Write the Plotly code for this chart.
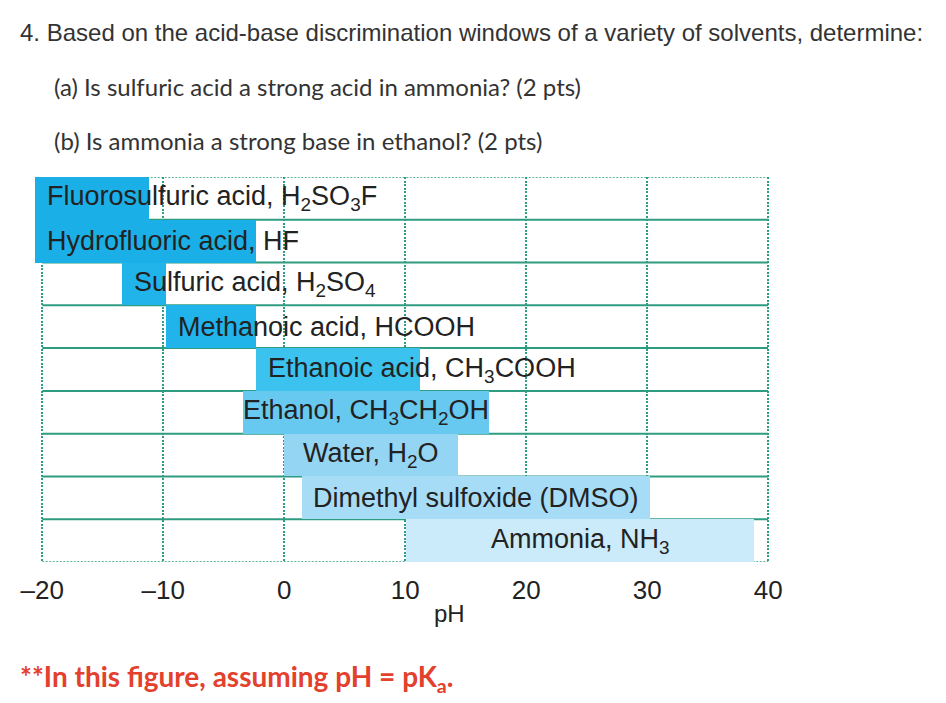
import plotly.graph_objects as go

# ---- data ----
solvents = [
    "Fluorosulfuric acid, H<sub>2</sub>SO<sub>3</sub>F",
    "Hydrofluoric acid, HF",
    "Sulfuric acid, H<sub>2</sub>SO<sub>4</sub>",
    "Methanoic acid, HCOOH",
    "Ethanoic acid, CH<sub>3</sub>COOH",
    "Ethanol, CH<sub>3</sub>CH<sub>2</sub>OH",
    "Water, H<sub>2</sub>O",
    "Dimethyl sulfoxide (DMSO)",
    "Ammonia, NH<sub>3</sub>",
]
window_low = [-20.6, -20.6, -13.4, -9.8, -2.3, -3.4, 0.0, 1.5, 10.1]
window_high = [-11.2, -2.3, -9.8, -2.3, 11.2, 16.9, 14.4, 30.2, 38.8]
tick_values = [-20, -10, 0, 10, 20, 30, 40]
tick_labels = ["\u201320", "\u201310", "0", "10", "20", "30", "40"]

# ---- style ----
bar_colors = ["#1BAFE7", "#1BAFE7", "#20B4EA", "#20B4EA", "#3CC2EF",
              "#68C9F0", "#95D5F4", "#A7DCF6", "#CBEAFA"]
label_align = ["left", "left", "left", "left", "left",
               "center", "center", "center", "center"]
grid_color = "#2E9C80"
text_color = "#222222"

W, H = 946, 703
L, R, T, B = 35, 173, 177, 141
PW, PH = W - L - R, H - T - B


def px(x):
    return (x - L) / PW


def py(y):
    return 1 - (y - T) / PH


rows = list(range(len(solvents)))
fig = go.Figure()
fig.add_trace(go.Bar(
    y=rows,
    x=[h - l for l, h in zip(window_low, window_high)],
    base=window_low,
    orientation="h",
    width=1.0,
    marker=dict(color=bar_colors, line=dict(width=0)),
    hoverinfo="skip",
    showlegend=False,
))

shapes = []
n = len(solvents)
for i in range(n + 1):
    edge = i - 0.5
    dotted = i in (0, n)
    shapes.append(dict(
        type="line", xref="x", yref="y",
        x0=tick_values[0], x1=tick_values[-1], y0=edge, y1=edge,
        line=dict(color=grid_color, width=2 if not dotted else 1.5,
                  dash="2px,1.5px" if dotted else "solid"),
        layer="below",
    ))

label_font = dict(family="Liberation Sans, Arial", size=27, color=text_color)
annotations = []
for i, (name, lo, hi, al) in enumerate(zip(solvents, window_low, window_high, label_align)):
    if al == "left":
        annotations.append(dict(x=lo, y=i, xref="x", yref="y", text=name,
                                xanchor="left", xshift=10, yanchor="middle",
                                showarrow=False, font=label_font))
    else:
        annotations.append(dict(x=(lo + hi) / 2, y=i, xref="x", yref="y", text=name,
                                xanchor="center", yanchor="middle", showarrow=False,
                                font=label_font))

annotations += [
    dict(x=px(18), y=py(32), xref="paper", yref="paper", xanchor="left", yanchor="middle",
         text="4. Based on the acid-base discrimination windows of a variety of solvents, determine:",
         showarrow=False, font=dict(family="Liberation Sans, Arial", size=24, color="#333333")),
    dict(x=px(52), y=py(86), xref="paper", yref="paper", xanchor="left", yanchor="middle",
         text="(a) Is sulfuric acid a strong acid in ammonia? (2 pts)",
         showarrow=False, font=dict(family="Lato", size=24, color="#333333")),
    dict(x=px(52), y=py(140), xref="paper", yref="paper", xanchor="left", yanchor="middle",
         text="(b) Is ammonia a strong base in ethanol? (2 pts)",
         showarrow=False, font=dict(family="Lato", size=24, color="#333333")),
    dict(x=px(449), y=py(613), xref="paper", yref="paper", xanchor="center", yanchor="middle",
         text="pH", showarrow=False,
         font=dict(family="Liberation Sans, Arial", size=24, color=text_color)),
    dict(x=px(18), y=py(678), xref="paper", yref="paper", xanchor="left", yanchor="middle",
         text="<b>**In this figure, assuming pH = pK<sub>a</sub>.</b>", showarrow=False,
         font=dict(family="Lato", size=28, color="#E3402D")),
]

fig.update_layout(
    width=W, height=H,
    margin=dict(l=L, r=R, t=T, b=B),
    paper_bgcolor="white", plot_bgcolor="white",
    bargap=0,
    shapes=shapes,
    annotations=annotations,
    xaxis=dict(range=[-20.6, 40.4], tickmode="array", tickvals=tick_values, ticktext=tick_labels,
               showgrid=True, gridcolor=grid_color, gridwidth=1.5, griddash="2px,1.5px",
               zeroline=False, showline=False, ticks="", ticklabelstandoff=10,
               tickfont=dict(family="Liberation Sans, Arial", size=26, color=text_color),
               fixedrange=True),
    yaxis=dict(range=[n - 0.5, -0.5], showgrid=False, zeroline=False, showticklabels=False,
               showline=False, fixedrange=True),
)

fig.write_html("out.html")
